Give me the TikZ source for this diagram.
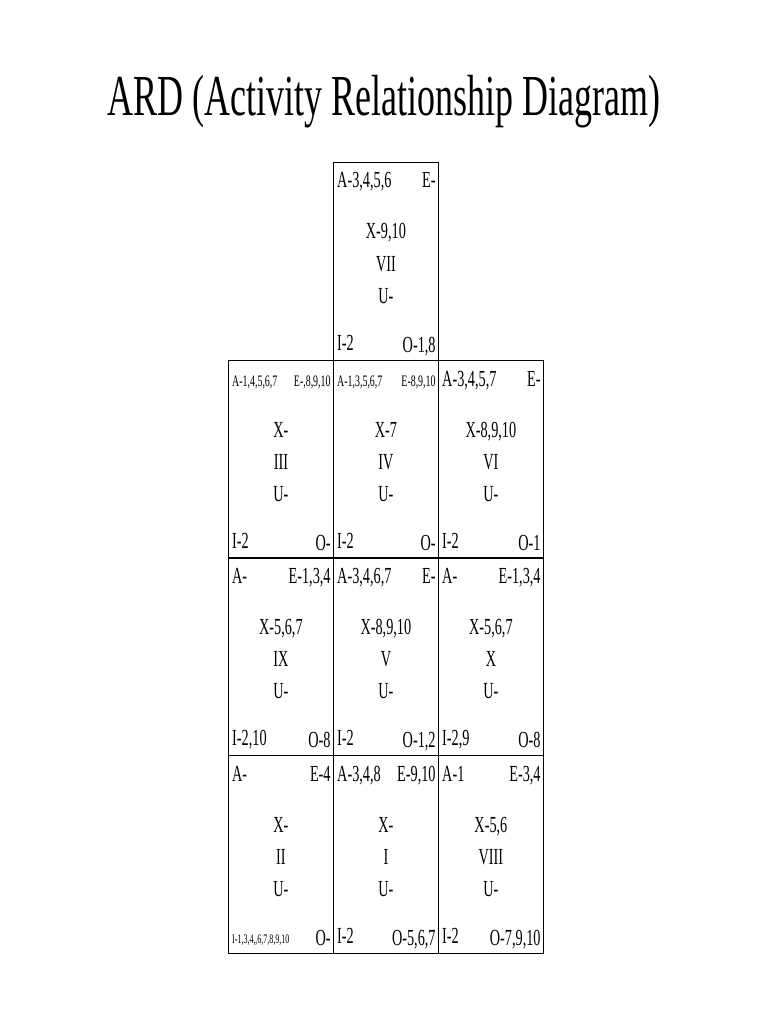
\documentclass[tikz,border=0pt]{standalone}
\usepackage{fontspec}
\setmainfont[FakeStretch=0.62]{Liberation Serif}
\usetikzlibrary{calc}
\begin{document}
\begin{tikzpicture}[x=1pt,y=-1pt,
  box/.style={draw,line width=0.8pt,minimum width=105pt,minimum height=197.5pt,anchor=north west,inner sep=0},
  big/.style={font=\fontsize{23}{23}\selectfont,inner sep=0},
  sml/.style={font=\fontsize{16}{16}\selectfont,inner sep=0},
  tny/.style={font=\fontsize{13}{13}\selectfont,inner sep=0}]
\useasboundingbox (0,0) rectangle (768,1024);
\node[font=\fontsize{58}{58}\selectfont,anchor=base] (title) at (384,116) {ARD (Activity Relationship Diagram)};
\newcommand\ardcell[9]{%
  \node[box] (#1) at (#2,#3) {};
  \node[#4,anchor=base west] (#1a) at ($(#1.north west)+(4,26)$) {#5};
  \node[#4,anchor=base east] (#1e) at ($(#1.north east)+(-3,26)$) {#6};
  \node[big,anchor=base] (#1x) at ($(#1.north)+(0,77)$) {#7};
  \node[big,anchor=base] (#1r) at ($(#1.north)+(0,109)$) {#8};
  \node[big,anchor=base] (#1u) at ($(#1.north)+(0,141)$) {U-};
  \ardbottom{#1}{#9}}
\newcommand\ardbottom[3]{%
  \node[\ardbs,anchor=base west] (#1i) at ($(#1.south west)+(4,-10)$) {#2};
  \node[big,anchor=base east] (#1o) at ($(#1.south east)+(-3,-8)$) {#3};}
\def\ardbs{big}
\ardcell{c7}{333}{162}{big}{A-3,4,5,6}{E-}{X-9,10}{VII}{I-2}{O-1,8}
\ardcell{c3}{228}{360}{sml}{A-1,4,5,6,7}{E-,8,9,10}{X-}{III}{I-2}{O-}
\ardcell{c4}{333}{360}{sml}{A-1,3,5,6,7}{E-8,9,10}{X-7}{IV}{I-2}{O-}
\ardcell{c6}{438}{360}{big}{A-3,4,5,7}{E-}{X-8,9,10}{VI}{I-2}{O-1}
\ardcell{c9}{228}{557}{big}{A-}{E-1,3,4}{X-5,6,7}{IX}{I-2,10}{O-8}
\ardcell{c5}{333}{557}{big}{A-3,4,6,7}{E-}{X-8,9,10}{V}{I-2}{O-1,2}
\ardcell{c10}{438}{557}{big}{A-}{E-1,3,4}{X-5,6,7}{X}{I-2,9}{O-8}
\def\ardbs{tny}
\ardcell{c2}{228}{755}{big}{A-}{E-4}{X-}{II}{I-1,3,4,,6,7,8,9,10}{O-}
\def\ardbs{big}
\ardcell{c1}{333}{755}{big}{A-3,4,8}{E-9,10}{X-}{I}{I-2}{O-5,6,7}
\ardcell{c8}{438}{755}{big}{A-1}{E-3,4}{X-5,6}{VIII}{I-2}{O-7,9,10}
\end{tikzpicture}
\end{document}
